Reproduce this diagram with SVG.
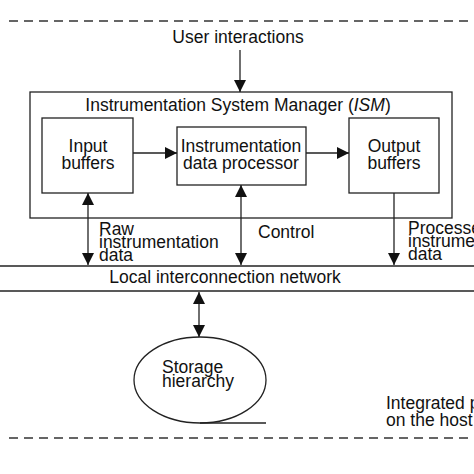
<svg xmlns="http://www.w3.org/2000/svg" width="474" height="474" viewBox="0 0 474 474">
<style>
text{font-family:"Liberation Sans",Arial,sans-serif;font-size:17.5px;fill:#111}
.box{fill:#fff;stroke:#222;stroke-width:1.3}
.ln{fill:none;stroke:#222;stroke-width:1.3}
.dash{fill:none;stroke:#333;stroke-width:1.5;stroke-dasharray:9 6}
.c{text-anchor:middle}
</style>
<defs>
<marker id="ah" viewBox="0 0 10 10" refX="10" refY="5" markerWidth="12" markerHeight="12" markerUnits="userSpaceOnUse" orient="auto-start-reverse">
<path d="M0,0 L10,5 L0,10 z" fill="#111"/>
</marker>
</defs>
<rect width="474" height="474" fill="#fff"/>
<line class="dash" x1="9" y1="21" x2="474" y2="21"/>
<line class="dash" x1="9" y1="438" x2="474" y2="438"/>
<g id="ism">
<rect class="box" x="30" y="92" width="422" height="126"/>
<text class="c" x="238" y="111">Instrumentation System Manager (<tspan font-style="italic">ISM</tspan>)</text>
</g>
<g id="input">
<rect class="box" x="42" y="118" width="91" height="75"/>
<text class="c" x="88" y="152">Input</text>
<text class="c" x="88" y="169">buffers</text>
</g>
<g id="processor">
<rect class="box" x="177" y="127" width="129" height="58"/>
<text class="c" x="241" y="152">Instrumentation</text>
<text class="c" x="241" y="169">data processor</text>
</g>
<g id="output">
<rect class="box" x="349" y="118" width="90" height="75"/>
<text class="c" x="394" y="152">Output</text>
<text class="c" x="394" y="169">buffers</text>
</g>
<g id="network">
<line class="ln" x1="0" y1="266" x2="474" y2="266"/>
<line class="ln" x1="0" y1="291" x2="474" y2="291"/>
<text class="c" x="225" y="283">Local interconnection network</text>
</g>
<g id="storage">
<ellipse class="box" cx="200" cy="380" rx="66" ry="43"/>
<line class="ln" x1="200" y1="423" x2="266" y2="423"/>
<text x="162" y="373">Storage</text>
<text x="162" y="387">hierarchy</text>
</g>
<g id="labels">
<text class="c" x="238" y="43">User interactions</text>
<text x="99" y="235">Raw</text>
<text x="99" y="248">instrumentation</text>
<text x="99" y="261">data</text>
<text x="258" y="238">Control</text>
<text x="408" y="234">Processed</text>
<text x="408" y="247">instrumentation</text>
<text x="408" y="260">data</text>
<text x="386" y="409">Integrated p</text>
<text x="386" y="426">on the host</text>
</g>
<g id="connectors">
<line class="ln" x1="240" y1="50" x2="240" y2="92" marker-end="url(#ah)"/>
<line class="ln" x1="133" y1="153" x2="177" y2="153" marker-end="url(#ah)"/>
<line class="ln" x1="306" y1="153" x2="349" y2="153" marker-end="url(#ah)"/>
<line class="ln" x1="88" y1="193" x2="88" y2="265" marker-start="url(#ah)" marker-end="url(#ah)"/>
<line class="ln" x1="241" y1="185" x2="241" y2="265" marker-start="url(#ah)" marker-end="url(#ah)"/>
<line class="ln" x1="394" y1="193" x2="394" y2="265" marker-end="url(#ah)"/>
<line class="ln" x1="199" y1="292" x2="199" y2="337" marker-start="url(#ah)" marker-end="url(#ah)"/>
</g>
</svg>
